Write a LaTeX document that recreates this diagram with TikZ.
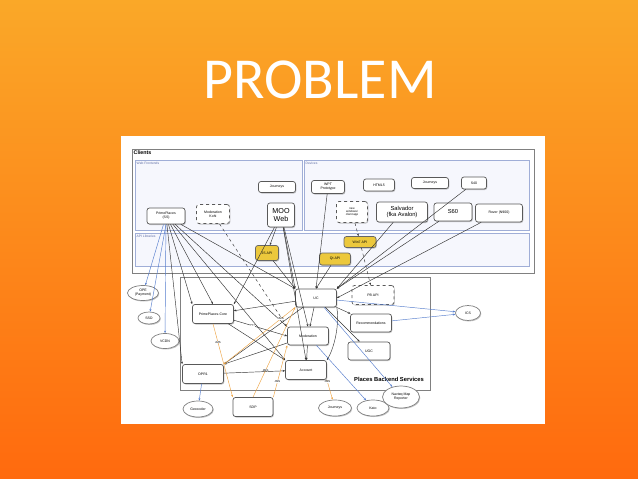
\documentclass[tikz,border=0pt]{standalone}
\usepackage{fontspec}
\setmainfont{Carlito}
\setsansfont{Liberation Sans}
\usetikzlibrary{shapes.geometric,shadows,arrows.meta}
\definecolor{bgtop}{RGB}{250,168,40}
\definecolor{bgbot}{RGB}{255,106,14}
\definecolor{grpedge}{RGB}{160,174,215}
\definecolor{grpfill}{RGB}{246,247,253}
\definecolor{grptext}{RGB}{95,110,165}
\definecolor{apiyel}{RGB}{236,200,60}
\definecolor{lnblue}{RGB}{85,125,205}
\definecolor{lnorange}{RGB}{238,165,70}
\begin{document}
\begin{tikzpicture}[x=1pt,y=-1pt,
  tinyf/.style={font=\sffamily\fontsize{3.5}{4}\selectfont},
  svc/.style={tinyf,draw=black!65,line width=0.7pt,rounded corners=2.5pt,fill=white,align=center,inner sep=0.5pt,
    drop shadow={shadow xshift=0.8pt,shadow yshift=-1pt,opacity=0.45}},
  dsvc/.style={svc,dashed},
  api/.style={svc,fill=apiyel,draw=black!60},
  ext/.style={tinyf,ellipse,draw=black!50,line width=0.7pt,fill=white,align=center,inner sep=0.3pt,
    drop shadow={shadow xshift=0.8pt,shadow yshift=-1pt,opacity=0.45}},
  grp/.style={draw=grpedge,line width=0.7pt,fill=grpfill},
  grplab/.style={font=\sffamily\fontsize{3.3}{3.8}\selectfont,text=grptext,anchor=north west,inner sep=0.5pt},
  arr/.style={-{Stealth[length=2.5pt,width=2pt]},draw=black!80,line width=0.45pt},
  barr/.style={arr,draw=lnblue},
  oarr/.style={arr,draw=lnorange},
  dl/.style={fill=white,inner sep=0.2pt,font=\sffamily\fontsize{2.8}{3.2}\selectfont}
]
\useasboundingbox (0,0) rectangle (638,479);
\shade[top color=bgtop,bottom color=bgbot] (0,0) rectangle (638,479);
\node[font=\fontsize{58}{60}\selectfont,text=white,anchor=base,inner sep=0pt] (title) at (320,98) {PROBLEM};
% white panel
\fill[white] (121,136) rectangle (545,424);
% Clients group
\draw[draw=black!50,line width=1pt] (132,149) rectangle (534,273);
\node[font=\sffamily\bfseries\fontsize{5.3}{6}\selectfont,anchor=north west,inner sep=0.5pt] (clients) at (133,150) {Clients};
\draw[grp] (135,160) rectangle (302,230);
\draw[grp] (304,160) rectangle (529,230);
\draw[grp] (135,233) rectangle (529,266);
\node[grplab] (webf) at (136,161) {Web Frontends};
\node[grplab] (devl) at (305,161) {Devices};
\node[grplab] (apil) at (136,234) {API Libraries};
% Places Backend Services group
\draw[draw=black!50,line width=0.7pt] (180,277) rectangle (430,390);
\node[font=\sffamily\bfseries\fontsize{5.8}{6.5}\selectfont,inner sep=0.5pt] (pbs) at (389,379) {Places Backend Services};
% web frontends
\node[svc,minimum width=38pt,minimum height=16pt] (ppss) at (166,216) {PrimePlaces\\(SS)};
\node[dsvc,minimum width=33pt,minimum height=19pt] (modk) at (213,214) {Moderation\\Kohi};
\node[svc,minimum width=37pt,minimum height=11pt] (jw) at (277,187) {Journeys};
\node[svc,minimum width=27pt,minimum height=24pt,font=\sffamily\fontsize{7.2}{8}\selectfont] (moo) at (281,215) {MOO\\Web};
% devices
\node[svc,minimum width=33pt,minimum height=13pt] (wpt) at (328,187) {WPT\\Prototype};
\node[svc,minimum width=31pt,minimum height=12pt] (html) at (379,185) {HTML5};
\node[svc,minimum width=37pt,minimum height=11pt] (jd) at (430,183) {Journeys};
\node[svc,minimum width=25pt,minimum height=12pt] (s40) at (474,183) {S40};
\node[dsvc,minimum width=31pt,minimum height=21pt,font=\sffamily\fontsize{2.9}{3.3}\selectfont] (nwin) at (352,212) {new\\windows/\\client app};
\node[svc,minimum width=51pt,minimum height=20pt,font=\sffamily\fontsize{5.8}{6.5}\selectfont] (salv) at (402,212) {Salvador\\(fka Avalon)};
\node[svc,minimum width=38pt,minimum height=18pt,font=\sffamily\fontsize{5.8}{6.5}\selectfont] (s60) at (453,212) {S60};
\node[svc,minimum width=47pt,minimum height=18pt] (rover) at (499,213) {Rover (N900)};
% API libraries
\node[api,minimum width=23pt,minimum height=15pt] (jsapi) at (267,253) {JS API};
\node[api,minimum width=31pt,minimum height=12pt] (qtapi) at (335,259) {Qt API};
\node[api,minimum width=32pt,minimum height=11pt] (w7api) at (360,242) {Win7 API};
% backend services
\node[dsvc,minimum width=42pt,minimum height=19pt] (pbapi) at (373,295) {PB API};
\node[svc,minimum width=41pt,minimum height=18pt] (uc) at (316,298) {UC};
\node[svc,minimum width=41pt,minimum height=19pt] (ppcore) at (213,314) {PrimePlaces-Core};
\node[svc,minimum width=41pt,minimum height=18pt] (reco) at (371,323) {Recommendations};
\node[svc,minimum width=42pt,minimum height=18pt] (ugc) at (369,351) {UGC};
\node[svc,minimum width=41pt,minimum height=18pt] (mod) at (308,336) {Moderation};
\node[svc,minimum width=41pt,minimum height=19pt] (acct) at (306,370) {Account};
\node[svc,minimum width=41pt,minimum height=19pt] (opr) at (203,374) {OPR1};
\node[svc,minimum width=40pt,minimum height=19pt] (sdp) at (253,407) {SDP};
% external
\node[ext,minimum width=31pt,minimum height=15pt] (ope) at (143,293) {OPE\\(Payment)};
\node[ext,minimum width=22pt,minimum height=12pt] (sso) at (149,318) {SSO};
\node[ext,minimum width=28pt,minimum height=15pt] (vcdn) at (165,341) {VCDN};
\node[ext,minimum width=25pt,minimum height=15pt] (ics) at (468,313) {ICS};
\node[ext,minimum width=30pt,minimum height=16pt] (geo) at (198,409) {Geocoder};
\node[ext,minimum width=33pt,minimum height=16pt] (journ) at (335,408) {Journeys};
\node[ext,minimum width=32pt,minimum height=16pt] (kato) at (373,408) {Kato};
\node[ext,minimum width=37pt,minimum height=22pt] (navteq) at (401,397) {Navteq Map\\Reporter};
% ---- connectors: web frontends
\draw[barr] (ppss) -- (ope);
\draw[barr] (ppss.south) -- (sso);
\draw[barr] (ppss) -- (vcdn);
\draw[arr] (ppss) -- (ppcore.north west);
\draw[arr] (ppss) -- (opr.north west);
\draw[arr] (ppss) -- (mod.north west);
\draw[arr] (ppss) -- (acct.north west);
\draw[arr] (ppss) -- (uc.north west);
\draw[arr] (ppss) -- (ppcore.north);
\draw[arr,dashed] (modk) -- (mod.north west);
\draw[arr] (moo) -- (jsapi);
\draw[arr] (moo) -- (ppcore.north east);
\draw[arr] (moo) -- (uc.north west);
\draw[arr] (moo) -- (mod.north);
\draw[arr] (moo) -- (acct.north);
% devices
\draw[arr] (wpt) -- (uc.north);
\draw[arr,dashed] (nwin) -- (w7api);
\draw[arr,dashed] (w7api) -- (pbapi);
\draw[arr] (qtapi) -- (uc.north);
\draw[arr] (salv) -- (uc.north east);
\draw[arr] (s60) -- (uc.north east);
\draw[arr] (s40) -- (uc.north east);
\draw[arr] (rover) -- (uc.east);
\draw[arr] (jsapi) -- (uc.north west);
% backend
\draw[arr] (uc) -- (ppcore);
\draw[arr] (uc) -- (reco);
\draw[arr] (uc) -- (ugc);
\draw[arr] (uc) -- (mod);
\draw[arr] (uc.south east) .. controls (340,330) and (332,352) .. (acct.north east);
\draw[arr] (uc) -- (opr.north east);
\draw[arr] (mod) -- (opr.north east);
\draw[arr] (mod) -- (acct);
\draw[arr] (ppcore) -- node[dl,pos=0.35] {???} (mod.west);
\draw[arr] (ppcore) -- (acct.north west);
\draw[arr] (opr) -- (acct);
\draw[barr] (uc) -- (ics);
\draw[barr] (reco) -- (ics);
\draw[barr] (uc) -- (navteq);
\draw[barr] (mod) -- (kato);
\draw[barr] (opr) -- (geo);
% JMS (orange)
\draw[oarr] (ppcore.south) -- node[dl,pos=0.25] {JMS} (sdp.north west);
\draw[oarr] (sdp.north) -- node[dl,pos=0.3] {JMS} (uc.south west);
\draw[oarr] (sdp.north east) -- node[dl,pos=0.3] {JMS} (mod.south west);
\draw[oarr] (uc.south west) -- node[dl,pos=0.2] {JMS} (opr.north east);
\draw[oarr] (acct.south east) -- node[dl,pos=0.1] {JMS} (journ);
\end{tikzpicture}
\end{document}
